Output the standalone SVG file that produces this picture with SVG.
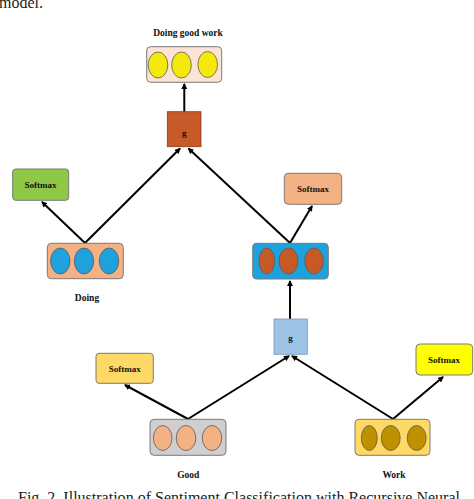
<svg xmlns="http://www.w3.org/2000/svg" width="474" height="499" viewBox="0 0 474 499">
<style>
.lbl{font-family:"Liberation Serif","Times New Roman",serif;font-weight:bold;font-size:9.5px;fill:#111;text-anchor:middle}
.sm{font-family:"Liberation Serif","Times New Roman",serif;font-weight:bold;font-size:9px;fill:#111;text-anchor:middle}
.cap{font-family:"Liberation Serif","Times New Roman",serif;font-size:16px;fill:#222}
.box{stroke:#7a7a7a;stroke-width:1}
.ov{stroke:#5a5a5a;stroke-width:0.8}
.con{stroke:#000;stroke-width:2;fill:none;marker-end:url(#ah)}
</style>
<defs>
<marker id="ah" markerWidth="6" markerHeight="6" refX="5" refY="3" orient="auto" markerUnits="userSpaceOnUse">
<path d="M0,0 L6,3 L0,6 Z" fill="#000"/>
</marker>
</defs>
<rect width="474" height="499" fill="#fff"/>
<text class="cap" x="-1" y="8" font-size="17">model.</text>

<g id="connectors">
<line class="con" x1="184.3" y1="111.7" x2="184.3" y2="84"/>
<line class="con" x1="85" y1="243" x2="180" y2="148.5"/>
<line class="con" x1="290" y1="243" x2="188.5" y2="148.5"/>
<line class="con" x1="85" y1="243" x2="42" y2="202"/>
<line class="con" x1="290" y1="243" x2="312" y2="206"/>
<line class="con" x1="290" y1="319" x2="290" y2="281"/>
<line class="con" x1="188" y1="419" x2="125" y2="385"/>
<line class="con" x1="188" y1="419" x2="289" y2="356"/>
<line class="con" x1="393" y1="419" x2="292" y2="356"/>
<line class="con" x1="393" y1="419" x2="443" y2="377"/>
</g>

<g id="node-doing-good-work">
<text class="lbl" x="188" y="36" font-size="8.8">Doing good work</text>
<rect class="box" x="146.7" y="46.7" width="75" height="35.6" rx="4" fill="#fbe3d6"/>
<ellipse class="ov" cx="158" cy="65" rx="9.8" ry="13" fill="#f5e90c"/>
<ellipse class="ov" cx="181.5" cy="65" rx="9.8" ry="13" fill="#f5e90c"/>
<ellipse class="ov" cx="207.7" cy="64.5" rx="9.8" ry="13" fill="#f5e90c"/>
</g>

<g id="node-g-top">
<rect x="167.3" y="111.7" width="33.7" height="35" fill="#c65a28" stroke="#8a3a14" stroke-width="0.8"/>
<text class="sm" x="184.2" y="136" font-weight="normal" fill="#333">g</text>
</g>

<g id="node-softmax-green">
<rect class="box" x="12.7" y="169" width="56" height="31.3" rx="3" fill="#8fc747"/>
<text class="sm" x="40.5" y="188">Softmax</text>
</g>

<g id="node-doing">
<rect class="box" x="47.3" y="243.3" width="76" height="35.4" rx="4" fill="#f4b183"/>
<ellipse class="ov" cx="60.3" cy="261" rx="9.7" ry="13" fill="#1ea1dc"/>
<ellipse class="ov" cx="84" cy="261" rx="9.7" ry="13" fill="#1ea1dc"/>
<ellipse class="ov" cx="109" cy="261" rx="9.7" ry="13" fill="#1ea1dc"/>
<text class="lbl" x="87" y="301">Doing</text>
</g>

<g id="node-softmax-orange">
<rect class="box" x="284.3" y="173.3" width="57.4" height="31" rx="4" fill="#f4b183"/>
<text class="sm" x="313" y="192">Softmax</text>
</g>

<g id="node-blue">
<rect class="box" x="252.7" y="243.3" width="75.6" height="35.7" rx="4" fill="#1ea1dc"/>
<ellipse class="ov" cx="266.8" cy="261" rx="7.8" ry="13" fill="#c55a27"/>
<ellipse class="ov" cx="288.5" cy="261" rx="9.5" ry="13" fill="#c55a27"/>
<ellipse class="ov" cx="314" cy="261" rx="9.3" ry="13" fill="#c55a27"/>
</g>

<g id="node-g-bottom">
<rect x="274" y="319" width="33.3" height="35.3" fill="#9dc3e6" stroke="#7a95b0" stroke-width="0.8"/>
<text class="sm" x="290.5" y="341">g</text>
</g>

<g id="node-softmax-good">
<rect class="box" x="96" y="353.3" width="57.3" height="30" rx="3" fill="#ffd966"/>
<text class="sm" x="124.7" y="371.5">Softmax</text>
</g>

<g id="node-good">
<rect class="box" x="150" y="419.3" width="76" height="36" rx="4" fill="#d0cece"/>
<ellipse class="ov" cx="162.7" cy="438" rx="9.3" ry="12.5" fill="#f4b183"/>
<ellipse class="ov" cx="186" cy="438" rx="9.8" ry="12.5" fill="#f4b183"/>
<ellipse class="ov" cx="212" cy="438" rx="9.8" ry="12.5" fill="#f4b183"/>
<text class="lbl" x="188.3" y="478">Good</text>
</g>

<g id="node-softmax-work">
<rect class="box" x="416" y="344" width="56.7" height="31" rx="4" fill="#ffff00"/>
<text class="sm" x="444" y="362.5">Softmax</text>
</g>

<g id="node-work">
<rect class="box" x="355" y="419.3" width="75" height="36" rx="4" fill="#ffd966"/>
<ellipse class="ov" cx="369.3" cy="438" rx="8" ry="12.5" fill="#bf9000"/>
<ellipse class="ov" cx="390.7" cy="438" rx="9.5" ry="12.5" fill="#bf9000"/>
<ellipse class="ov" cx="416.7" cy="438" rx="9.5" ry="12.5" fill="#bf9000"/>
<text class="lbl" x="394" y="478">Work</text>
</g>

<text class="cap" x="18" y="503" textLength="442" lengthAdjust="spacingAndGlyphs">Fig. 2.   Illustration of Sentiment Classification with Recursive Neural</text>
</svg>
